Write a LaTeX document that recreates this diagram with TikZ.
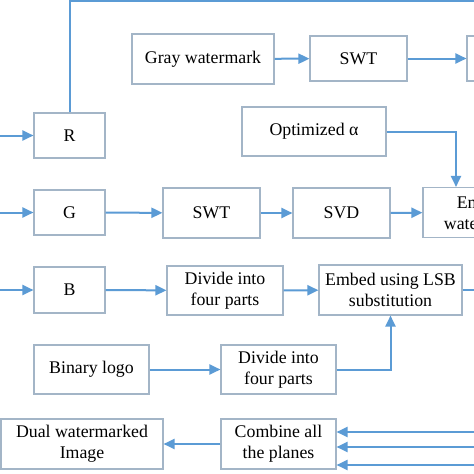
\documentclass[tikz,border=0pt]{standalone}
\usepackage{fontspec}
\setmainfont{Liberation Serif}
\usetikzlibrary{arrows.meta}
\definecolor{lineblue}{HTML}{5B9BD5}
\definecolor{boxc}{HTML}{A3B5C7}
\tikzset{
  box/.style={draw=boxc, line width=1.1pt, fill=white, align=center, inner sep=0pt,
    font=\fontsize{17.8}{21}\selectfont},
  conn/.style={draw=lineblue, line width=2pt},
  arr/.style={conn, -{Triangle[length=11pt,width=10pt]}},
}
\begin{document}
\begin{tikzpicture}[x=1pt,y=-1pt]
\useasboundingbox (0,0) rectangle (474,474);
\fill[white] (0,0) rectangle (474,474);
\clip (0,0) rectangle (474,474);
% nodes
\node[box, minimum width=71pt, minimum height=45pt] (R) at (69.5,135.5) {R};
\node[box, minimum width=71pt, minimum height=45pt] (G) at (69.5,212.5) {G};
\node[box, minimum width=71pt, minimum height=46pt] (B) at (69.5,290) {B};
\node[box, minimum width=142pt, minimum height=50pt] (gray) at (203,59) {Gray watermark};
\node[box, minimum width=97pt, minimum height=45pt] (swtA) at (358.5,58.5) {SWT};
\node[box, minimum width=94pt, minimum height=45pt] (topright) at (514,58.5) {};
\node[box, minimum width=144pt, minimum height=49pt] (opt) at (314,131.5) {Optimized α};
\node[box, minimum width=97pt, minimum height=50pt] (swtB) at (211.5,213) {SWT};
\node[box, minimum width=97pt, minimum height=50pt] (svd) at (341.5,213) {SVD};
\node[box, minimum width=118pt, minimum height=50pt] (embw) at (482,212.5) {Embed\\watermark};
\node[box, minimum width=116pt, minimum height=49pt] (divA) at (225,290.5) {Divide into\\four parts};
\node[box, minimum width=143pt, minimum height=50pt] (lsb) at (390.5,290) {Embed using LSB\\substitution};
\node[box, minimum width=115pt, minimum height=49pt] (bin) at (91.5,369.5) {Binary logo};
\node[box, minimum width=115pt, minimum height=49pt] (divB) at (278.5,369.5) {Divide into\\four parts};
\node[box, minimum width=162pt, minimum height=50pt] (dual) at (82,444) {Dual watermarked\\Image};
\node[box, minimum width=115pt, minimum height=50pt] (comb) at (278.5,444) {Combine all\\the planes};
% free ends
\coordinate (inR) at (-5,135.5);
\coordinate (inG) at (-5,212.5);
\coordinate (inB) at (-5,290);
\coordinate (topR) at (480,1);
\coordinate (lsbout) at (480,290);
\coordinate (cA) at (480,432);
\coordinate (cB) at (480,447);
\coordinate (cC) at (480,465);
% connectors
\draw[arr] (inR) -- (R.west);
\draw[arr] (inG) -- (G.west);
\draw[arr] (inB) -- (B.west);
\draw[conn] (R.north) |- (topR);
\draw[arr] (gray) -- (swtA);
\draw[arr] (swtA) -- (topright);
\draw[arr] (opt.east) -| ([xshift=-26pt]embw.north);
\draw[arr] (G) -- (swtB);
\draw[arr] (swtB) -- (svd);
\draw[arr] (svd) -- (embw);
\draw[arr] (B) -- (divA);
\draw[arr] (divA) -- (lsb);
\draw[conn] (lsb.east) -- (lsbout);
\draw[arr] (bin) -- (divB);
\draw[arr] (divB.east) -| (lsb.south);
\draw[arr] (comb) -- (dual);
\draw[arr] (cA) -- (comb.east |- cA);
\draw[arr] (cB) -- (comb.east |- cB);
\draw[arr] (cC) -- (comb.east |- cC);
\end{tikzpicture}
\end{document}
